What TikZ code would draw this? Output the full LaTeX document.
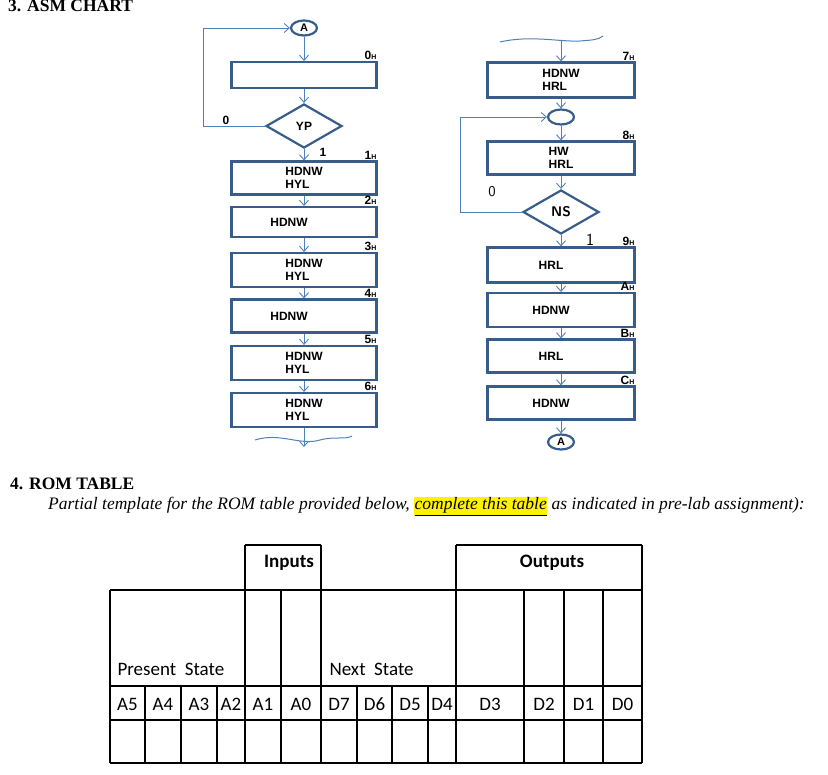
\documentclass[tikz,border=0pt]{standalone}
\usepackage{fontspec}
\setmainfont{Liberation Serif}
\newfontfamily\boxf{Liberation Sans}
\newfontfamily\calf{Carlito}
\usetikzlibrary{shapes.geometric,arrows.meta}
\definecolor{fl}{RGB}{79,129,189}
\definecolor{bd}{RGB}{56,93,138}
\begin{document}
\begin{tikzpicture}[x=1pt,y=-1pt,
 box/.style={draw=bd,line width=2.2pt,minimum width=145pt,inner sep=0pt,font=\boxf\bfseries\fontsize{12}{13}\selectfont,align=left},
 dia/.style={diamond,draw=bd,line width=2.2pt,aspect=1.75,minimum width=76pt,minimum height=44pt,inner sep=0pt,font=\boxf\bfseries\fontsize{12}{13}\selectfont},
 conn/.style={ellipse,draw=bd,line width=2.2pt,minimum width=26pt,minimum height=15pt,inner sep=0pt,font=\boxf\bfseries\fontsize{11}{11}\selectfont},
 arr/.style={draw=fl,line width=0.9pt,-{Straight Barb[length=5pt,width=9pt]}},
 hex/.style={anchor=south east,inner sep=1pt,font=\boxf\bfseries\fontsize{12}{12}\selectfont},
 lbl/.style={font=\boxf\bfseries\fontsize{12}{12}\selectfont},
 tl/.style={line width=1.1pt},
 tk/.style={line width=2pt},
 tt/.style={font=\calf\fontsize{19}{21}\selectfont}]
\useasboundingbox (0,0) rectangle (828,775);
\node[anchor=north west,inner sep=0pt,font=\bfseries\fontsize{17.5}{19}\selectfont] (t1) at (8,0) {3. ASM CHART};
% left chart
\node[conn] (A1) at (304,28) {A};
\node[box,minimum height=26pt] (b0) at (304,75) {};
\node[hex] at (b0.north east) {0\scriptsize H};
\node[dia] (yp) at (304,126) {YP};
\node[box,minimum height=33pt] (b1) at (304,178) {HDNW\\HYL};
\node[hex] at (b1.north east) {1\scriptsize H};
\node[box,minimum height=30pt] (b2) at (304,222) {HDNW\rule{30pt}{0pt}};
\node[hex] at (b2.north east) {2\scriptsize H};
\node[box,minimum height=34pt] (b3) at (304,270) {HDNW\\HYL};
\node[hex] at (b3.north east) {3\scriptsize H};
\node[box,minimum height=33pt] (b4) at (304,316) {HDNW\rule{30pt}{0pt}};
\node[hex] at (b4.north east) {4\scriptsize H};
\node[box,minimum height=34pt] (b5) at (304,363) {HDNW\\HYL};
\node[hex] at (b5.north east) {5\scriptsize H};
\node[box,minimum height=34pt] (b6) at (304,410) {HDNW\\HYL};
\node[hex] at (b6.north east) {6\scriptsize H};
\coordinate (e1) at (304,447);
\draw[arr] (A1) -- (b0);
\draw[arr] (b0) -- (yp);
\draw[arr] (yp) -- (b1);
\draw[arr] (b1) -- (b2);
\draw[arr] (b2) -- (b3);
\draw[arr] (b3) -- (b4);
\draw[arr] (b4) -- (b5);
\draw[arr] (b5) -- (b6);
\draw[arr] (b6) -- (e1);
\draw[fl,line width=1pt] (255,440) .. controls (280,432) and (300,446) .. (320,440) .. controls (335,436) and (345,440) .. (352,436);
\draw[arr] (yp.west) -- (203,126) -- (203,28) -- (A1.west);
\node[lbl] at (226,120) {0};
\node[lbl] at (323,152) {1};
% right chart
\draw[fl,line width=1pt] (500,42) .. controls (530,35) and (560,42) .. (580,41) .. controls (592,40) and (598,40) .. (603,36);
\coordinate (s2) at (561,41);
\node[box,minimum width=147pt,minimum height=35pt] (c7) at (561,80) {HDNW\\HRL};
\node[hex] at (c7.north east) {7\scriptsize H};
\node[conn] (j) at (561,117) {};
\node[box,minimum width=147pt,minimum height=33pt] (c8) at (561,158) {HW\\HRL};
\node[hex] at (c8.north east) {8\scriptsize H};
\node[dia] (ns) at (561,212) {\sffamily\fontsize{14}{14}\selectfont NS};
\node[box,minimum width=147pt,minimum height=35pt] (c9) at (561,265) {HRL\rule{20pt}{0pt}};
\node[hex] at (c9.north east) {9\scriptsize H};
\node[box,minimum width=147pt,minimum height=34pt] (ca) at (561,310) {HDNW\rule{20pt}{0pt}};
\node[hex] at (ca.north east) {A\scriptsize H};
\node[box,minimum width=147pt,minimum height=33pt] (cb) at (561,356) {HRL\rule{20pt}{0pt}};
\node[hex] at (cb.north east) {B\scriptsize H};
\node[box,minimum width=147pt,minimum height=33pt] (cc) at (561,403) {HDNW\rule{20pt}{0pt}};
\node[hex] at (cc.north east) {C\scriptsize H};
\node[conn] (A2) at (561,442) {A};
\draw[arr] (s2) -- (c7);
\draw[arr] (c7) -- (j);
\draw[arr] (j) -- (c8);
\draw[arr] (c8) -- (ns);
\draw[arr] (ns) -- (c9);
\draw[arr] (c9) -- (ca);
\draw[arr] (ca) -- (cb);
\draw[arr] (cb) -- (cc);
\draw[arr] (cc) -- (A2);
\draw[arr] (ns.west) -- (460,212) -- (460,117) -- (j.west);
\node[font=\sffamily\fontsize{15}{15}\selectfont] at (492,192) {0};
\node[font=\sffamily\fontsize{17}{17}\selectfont] at (590,240) {1};
% ROM table
\node[anchor=north west,inner sep=0pt,font=\bfseries\fontsize{17.5}{19}\selectfont] (t2) at (10,478) {4. ROM TABLE};
\node[anchor=north west,inner sep=0pt,font=\itshape\fontsize{17.5}{19}\selectfont] (t3) at (48,497) {Partial template for the ROM table provided below, {\setlength{\fboxsep}{0.5pt}\colorbox{yellow}{\underline{complete this table}}} as indicated in pre-lab assignment):};
% table lines
\draw[tk] (245,545) -- (321,545) (456,545) -- (642,545);
\draw[tk] (245,545) -- (245,763) (321,545) -- (321,763) (456,545) -- (456,763) (642,545) -- (642,763);
\draw[tk] (110,590) -- (642,590) (110,590) -- (110,763) (110,763) -- (642,763);
\draw[tl] (110,686) -- (642,686) (110,720) -- (642,720);
\foreach \x in {145,181,217,357,392,428} \draw[tl] (\x,686) -- (\x,763);
\foreach \x in {281,524,564,603} \draw[tl] (\x,590) -- (\x,763);
\node[tt,font=\calf\bfseries\fontsize{19}{21}\selectfont] (hi) at (289,563) {Inputs};
\node[tt,font=\calf\bfseries\fontsize{19}{21}\selectfont] (ho) at (552,563) {Outputs};
\node[tt,anchor=west] (ps) at (114,669) {Present\ \ State};
\node[tt,anchor=west] (nx) at (326,669) {Next\ \ State};
\foreach \a/\b/\t [count=\i] in {110/145/A5,145/181/A4,181/217/A3,217/245/A2,245/281/A1,281/321/A0,321/357/D7,357/392/D6,392/428/D5,428/456/D4,456/524/D3,524/564/D2,564/603/D1,603/642/D0}
  \node[tt] (h\i) at ({(\a+\b)/2},704) {\t};
\end{tikzpicture}
\end{document}
